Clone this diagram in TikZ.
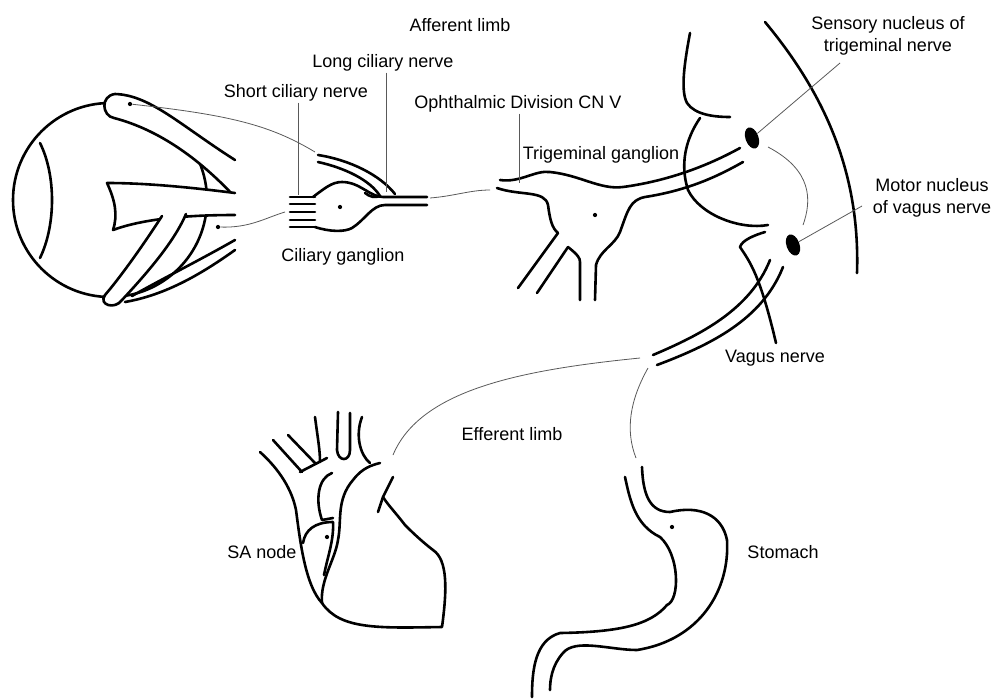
\documentclass[tikz,border=0pt]{standalone}
\usepackage{fontspec}
\setmainfont{Liberation Sans}
\usetikzlibrary{positioning,shapes.geometric}
\tikzset{
  nerve/.style={line width=2.6pt,line cap=round,line join=round},
  pointer/.style={line width=.8pt,black!65},
  lbl/.style={font=\fontsize{18}{22}\selectfont,inner sep=1pt}
}
\begin{document}
\begin{tikzpicture}[x=1pt,y=-1pt]
\useasboundingbox(0,0)rectangle(1008,699);
%eye
\draw[nerve](110,200)circle(97);
\draw[nerve](40,143)..controls(56,175)and(56,225)..(40,258);
\draw[nerve,fill=white](235,160)..controls(180,125)and(150,95)..(115,94)..controls(100,96)and(102,116)..(114,118)..controls(160,130)and(200,160)..(233,195);
\draw[nerve,fill=white](235,193)..controls(180,186)and(140,183)..(107,183)..controls(115,200)and(118,215)..(113,230)..controls(140,220)and(180,215)..(235,215);
\draw[nerve,fill=white](162,216)..controls(140,250)and(118,280)..(105,295)..controls(98,305)and(115,310)..(122,300)..controls(150,270)and(175,240)..(186,214);
\draw[nerve](235,240)..controls(200,260)and(160,280)..(132,296);
\draw[nerve](235,250)..controls(200,275)and(165,295)..(125,302);
\node[circle,fill,inner sep=1.5pt](eyedot1)at(130,104){};
\node[circle,fill,inner sep=1.5pt](eyedot2)at(218,227){};
%ciliary ganglion
\draw[nerve](313,197)..controls(325,188)and(332,182)..(342,182)..controls(360,182)and(370,197)..(383,197)--(427,197);
\draw[nerve](315,227)..controls(330,232)and(345,232)..(352,228)..controls(365,220)and(372,205)..(385,205)--(427,205);
\foreach \y in {197,204,212,220,227}
  \draw[nerve](290,\y)--(315,\y);
\draw[nerve](318,155)..controls(350,160)and(380,175)..(395,194);
\draw[nerve](318,162)..controls(345,168)and(370,180)..(380,196)..controls(375,198)and(370,197)..(365,193);
\node[circle,fill,inner sep=1.5pt](cgdot)at(340,207){};
%trigeminal ganglion
\draw[nerve](500,180)..controls(520,183)and(535,170)..(550,172)..controls(580,175)and(600,190)..(623,187)..controls(660,182)and(700,170)..(740,148);
\draw[nerve](497,188)..controls(520,196)and(545,190)..(548,205)..controls(550,220)and(552,228)..(558,233)--(518,288);
\draw[nerve](568,247)--(537,293);
\draw[nerve](568,247)..controls(578,255)and(580,258)..(580,262)--(580,300);
\draw[nerve](595,300)--(596,265)..controls(600,250)and(615,245)..(620,232)..controls(628,210)and(630,200)..(645,197)..controls(690,190)and(720,175)..(743,162);
\node[circle,fill,inner sep=1.5pt](tgdot)at(595,215){};
%brainstem
\draw[nerve](690,33)..controls(685,60)and(680,90)..(687,103)..controls(695,115)and(715,117)..(730,117);
\draw[nerve](700,118)..controls(685,140)and(680,165)..(688,190)..controls(700,215)and(740,230)..(768,225);
\draw[nerve](765,232)..controls(755,235)and(742,240)..(740,247)..controls(750,262)and(760,275)..(776,343);
\draw[nerve](765,22)..controls(830,100)and(860,180)..(857,273);
\node[ellipse,fill,minimum width=13pt,minimum height=22pt,rotate=20,inner sep=0pt](sensory)at(752,138){};
\node[ellipse,fill,minimum width=13pt,minimum height=22pt,rotate=20,inner sep=0pt](motor)at(793,245){};
\draw[pointer](768,147)..controls(812,170)and(812,200)..(803,225);
%vagus nerve
\draw[nerve](770,260)..controls(750,310)and(700,335)..(653,355);
\draw[nerve](783,267)..controls(762,320)and(710,345)..(657,365);
%heart
\draw[nerve](260,452)..controls(280,470)and(292,490)..(296,510)..controls(300,540)and(305,585)..(322,603)..controls(340,630)and(380,628)..(442,627)..controls(447,590)and(448,560)..(433,550)..controls(420,540)and(410,530)..(405,525)..controls(395,512)and(388,505)..(383,497);
\draw[nerve](393,477)--(383,497)--(378,512);
\draw[nerve](322,603)..controls(320,580)and(335,560)..(338,540)..controls(342,520)and(336,500)..(353,480)..controls(362,468)and(372,465)..(380,463);
\draw[nerve](303,543)..controls(305,530)and(315,522)..(333,522)..controls(334,540)and(328,555)..(324,575);
\draw[nerve](273,440)--(302,472);
\draw[nerve](288,435)--(315,463);
\draw[nerve](300,472)--(327,458);
\draw[nerve](315,417)..controls(318,440)and(320,450)..(320,462);
\draw[nerve](338,412)--(337,450)..controls(338,462)and(350,462)..(350,450)--(350,413);
\draw[nerve](362,417)..controls(355,435)and(360,455)..(370,463);
\draw[nerve](332,473)..controls(318,478)and(315,500)..(322,520)--(333,518);
\node[circle,fill,inner sep=1.5pt](sadot)at(327,537){};
%stomach
\draw[nerve](625,477)..controls(630,500)and(635,525)..(660,537)..controls(680,555)and(680,600)..(667,605)..controls(650,625)and(620,632)..(560,633)..controls(535,640)and(532,670)..(532,697);
\draw[nerve](642,467)..controls(643,495)and(650,512)..(670,512)..controls(700,505)and(722,515)..(727,540)..controls(730,590)and(700,640)..(637,650)..controls(610,650)and(575,638)..(563,653)..controls(552,665)and(550,680)..(550,690);
\node[circle,fill,inner sep=1.5pt](stdot)at(672,527){};
%labels
\node[lbl](afferent)at(460,25){Afferent limb};
\node[lbl](longcil)at(383,63){Long ciliary nerve};
\node[lbl](shortcil)at(296,93){Short ciliary nerve};
\node[lbl](ophth)at(518,104){Ophthalmic Division CN V};
\node[lbl](trigem)at(601,155){Trigeminal ganglion};
\node[lbl,align=center](sensorylbl)at(888,36){Sensory nucleus of\\trigeminal nerve};
\node[lbl,align=center](motorlbl)at(932,198){Motor nucleus\\of vagus nerve};
\node[lbl](ciliary)at(343,257){Ciliary ganglion};
\node[lbl](vagus)at(775,358){Vagus nerve};
\node[lbl](efferent)at(512,434){Efferent limb};
\node[lbl](sanode)at(262,552){SA node};
\node[lbl](stomach)at(783,552){Stomach};
%pointers
\coordinate(lcend)at(386,192);
\coordinate(scend)at(298,195);
\coordinate(opend)at(519,183);
\draw[pointer](longcil.south-|lcend)--(lcend);
\draw[pointer](shortcil.south-|scend)--(scend);
\draw[pointer](ophth.south-|opend)--(opend);
\draw[pointer](eyedot1)..controls(230,115)and(270,125)..(315,152);
\draw[pointer](eyedot2)..controls(250,228)and(265,218)..(285,212);
\draw[pointer](430,198)..controls(455,196)and(470,190)..(490,190);
\draw[pointer](sensory)--(840,63);
\draw[pointer](motor)--(862,206);
\draw[pointer](640,358)..controls(520,370)and(420,390)..(393,455);
\draw[pointer](648,368)..controls(630,400)and(625,430)..(636,458);
\end{tikzpicture}
\end{document}
